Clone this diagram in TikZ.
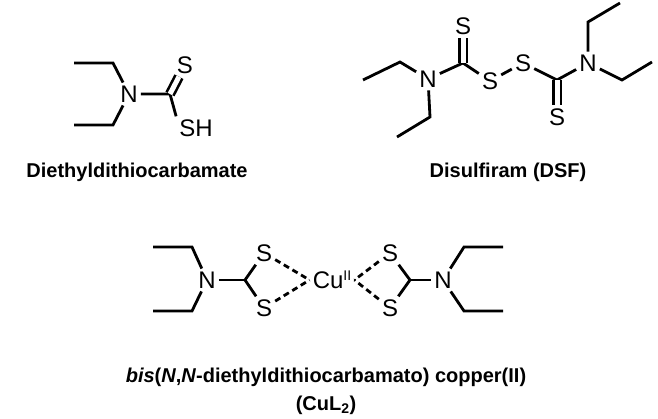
\documentclass[tikz,border=0pt]{standalone}
\usepackage{fontspec}
\setmainfont{Liberation Sans}
\begin{document}
\begin{tikzpicture}[x=1pt,y=-1pt,
  atom/.style={inner sep=3pt,font=\fontsize{24}{24}\selectfont},
  bond/.style={line width=2.8pt},
  dbl/.style={double,double distance=5pt,line width=2.6pt},
  dsh/.style={line width=2.8pt,dash pattern=on 6pt off 4pt},
  lbl/.style={font=\fontsize{20}{22}\bfseries\selectfont}]
\useasboundingbox (0,0) rectangle (658,419);
% Diethyldithiocarbamate
\node[atom] (n1) at (129,94) {N};
\node[atom] (s1) at (185,65) {S};
\node[atom] (sh1) at (196,128) {SH};
\coordinate (c1) at (170,94);
\coordinate (a1) at (113,63); \coordinate (a2) at (74,63);
\coordinate (b1) at (113,125); \coordinate (b2) at (74,125);
\draw[bond] (a2)--(a1)--(n1)--(b1)--(b2);
\draw[bond] (n1)--(c1)--(sh1.north west);
\draw[dbl] (c1)--(s1);
\node[lbl] (t1) at (137,172) {Diethyldithiocarbamate};
% Disulfiram
\node[atom] (n2) at (428,79) {N};
\node[atom] (st) at (463,26) {S};
\node[atom] (sa) at (490,81) {S};
\node[atom] (sb) at (523,63) {S};
\node[atom] (sbt) at (557,117) {S};
\node[atom] (n3) at (588,63) {N};
\coordinate (c2) at (463,63); \coordinate (c3) at (557,80);
\coordinate (d1) at (400,62); \coordinate (d2) at (363,80);
\coordinate (e1) at (430,117); \coordinate (e2) at (397,137);
\coordinate (f1) at (588,22); \coordinate (f2) at (620,3);
\coordinate (g1) at (622,80); \coordinate (g2) at (652,62);
\draw[bond] (d2)--(d1)--(n2)--(e1)--(e2);
\draw[bond] (n2)--(c2)--(sa)--(sb)--(c3)--(n3);
\draw[dbl] (c2)--(st); \draw[dbl] (c3)--(sbt);
\draw[bond] (f2)--(f1)--(n3)--(g1)--(g2);
\node[lbl] (t2) at (508,172) {Disulfiram (DSF)};
% CuL2
\node[atom] (n4) at (207,280) {N};
\coordinate (c4) at (245,280);
\node[atom] (s4) at (264,253) {S};
\node[atom] (s5) at (264,308) {S};
\node[atom] (cu) at (332,280) {Cu\raisebox{0.6ex}{\fontsize{14}{14}\selectfont II}};
\node[atom] (s6) at (390,253) {S};
\node[atom] (s7) at (390,308) {S};
\coordinate (c5) at (410,280);
\node[atom] (n5) at (443,280) {N};
\coordinate (h1) at (192,247); \coordinate (h2) at (153,247);
\coordinate (i1) at (192,311); \coordinate (i2) at (153,311);
\coordinate (j1) at (464,247); \coordinate (j2) at (503,247);
\coordinate (k1) at (464,311); \coordinate (k2) at (503,311);
\draw[bond] (h2)--(h1)--(n4)--(i1)--(i2);
\draw[bond] (n4)--(c4); \draw[bond] (s4)--(c4)--(s5);
\draw[bond] (s6)--(c5)--(s7); \draw[bond] (c5)--(n5);
\draw[bond] (j2)--(j1)--(n5)--(k1)--(k2);
\draw[dsh] (s4)--(cu.west); \draw[dsh] (s5)--(cu.west);
\draw[dsh] (s6)--(cu.east); \draw[dsh] (s7)--(cu.east);
\node[lbl] (t3) at (326,377) {\textit{bis}(\textit{N},\textit{N}-diethyldithiocarbamato) copper(II)};
\node[lbl] (t4) at (326,405) {(CuL\textsubscript{2})};
\end{tikzpicture}
\end{document}
